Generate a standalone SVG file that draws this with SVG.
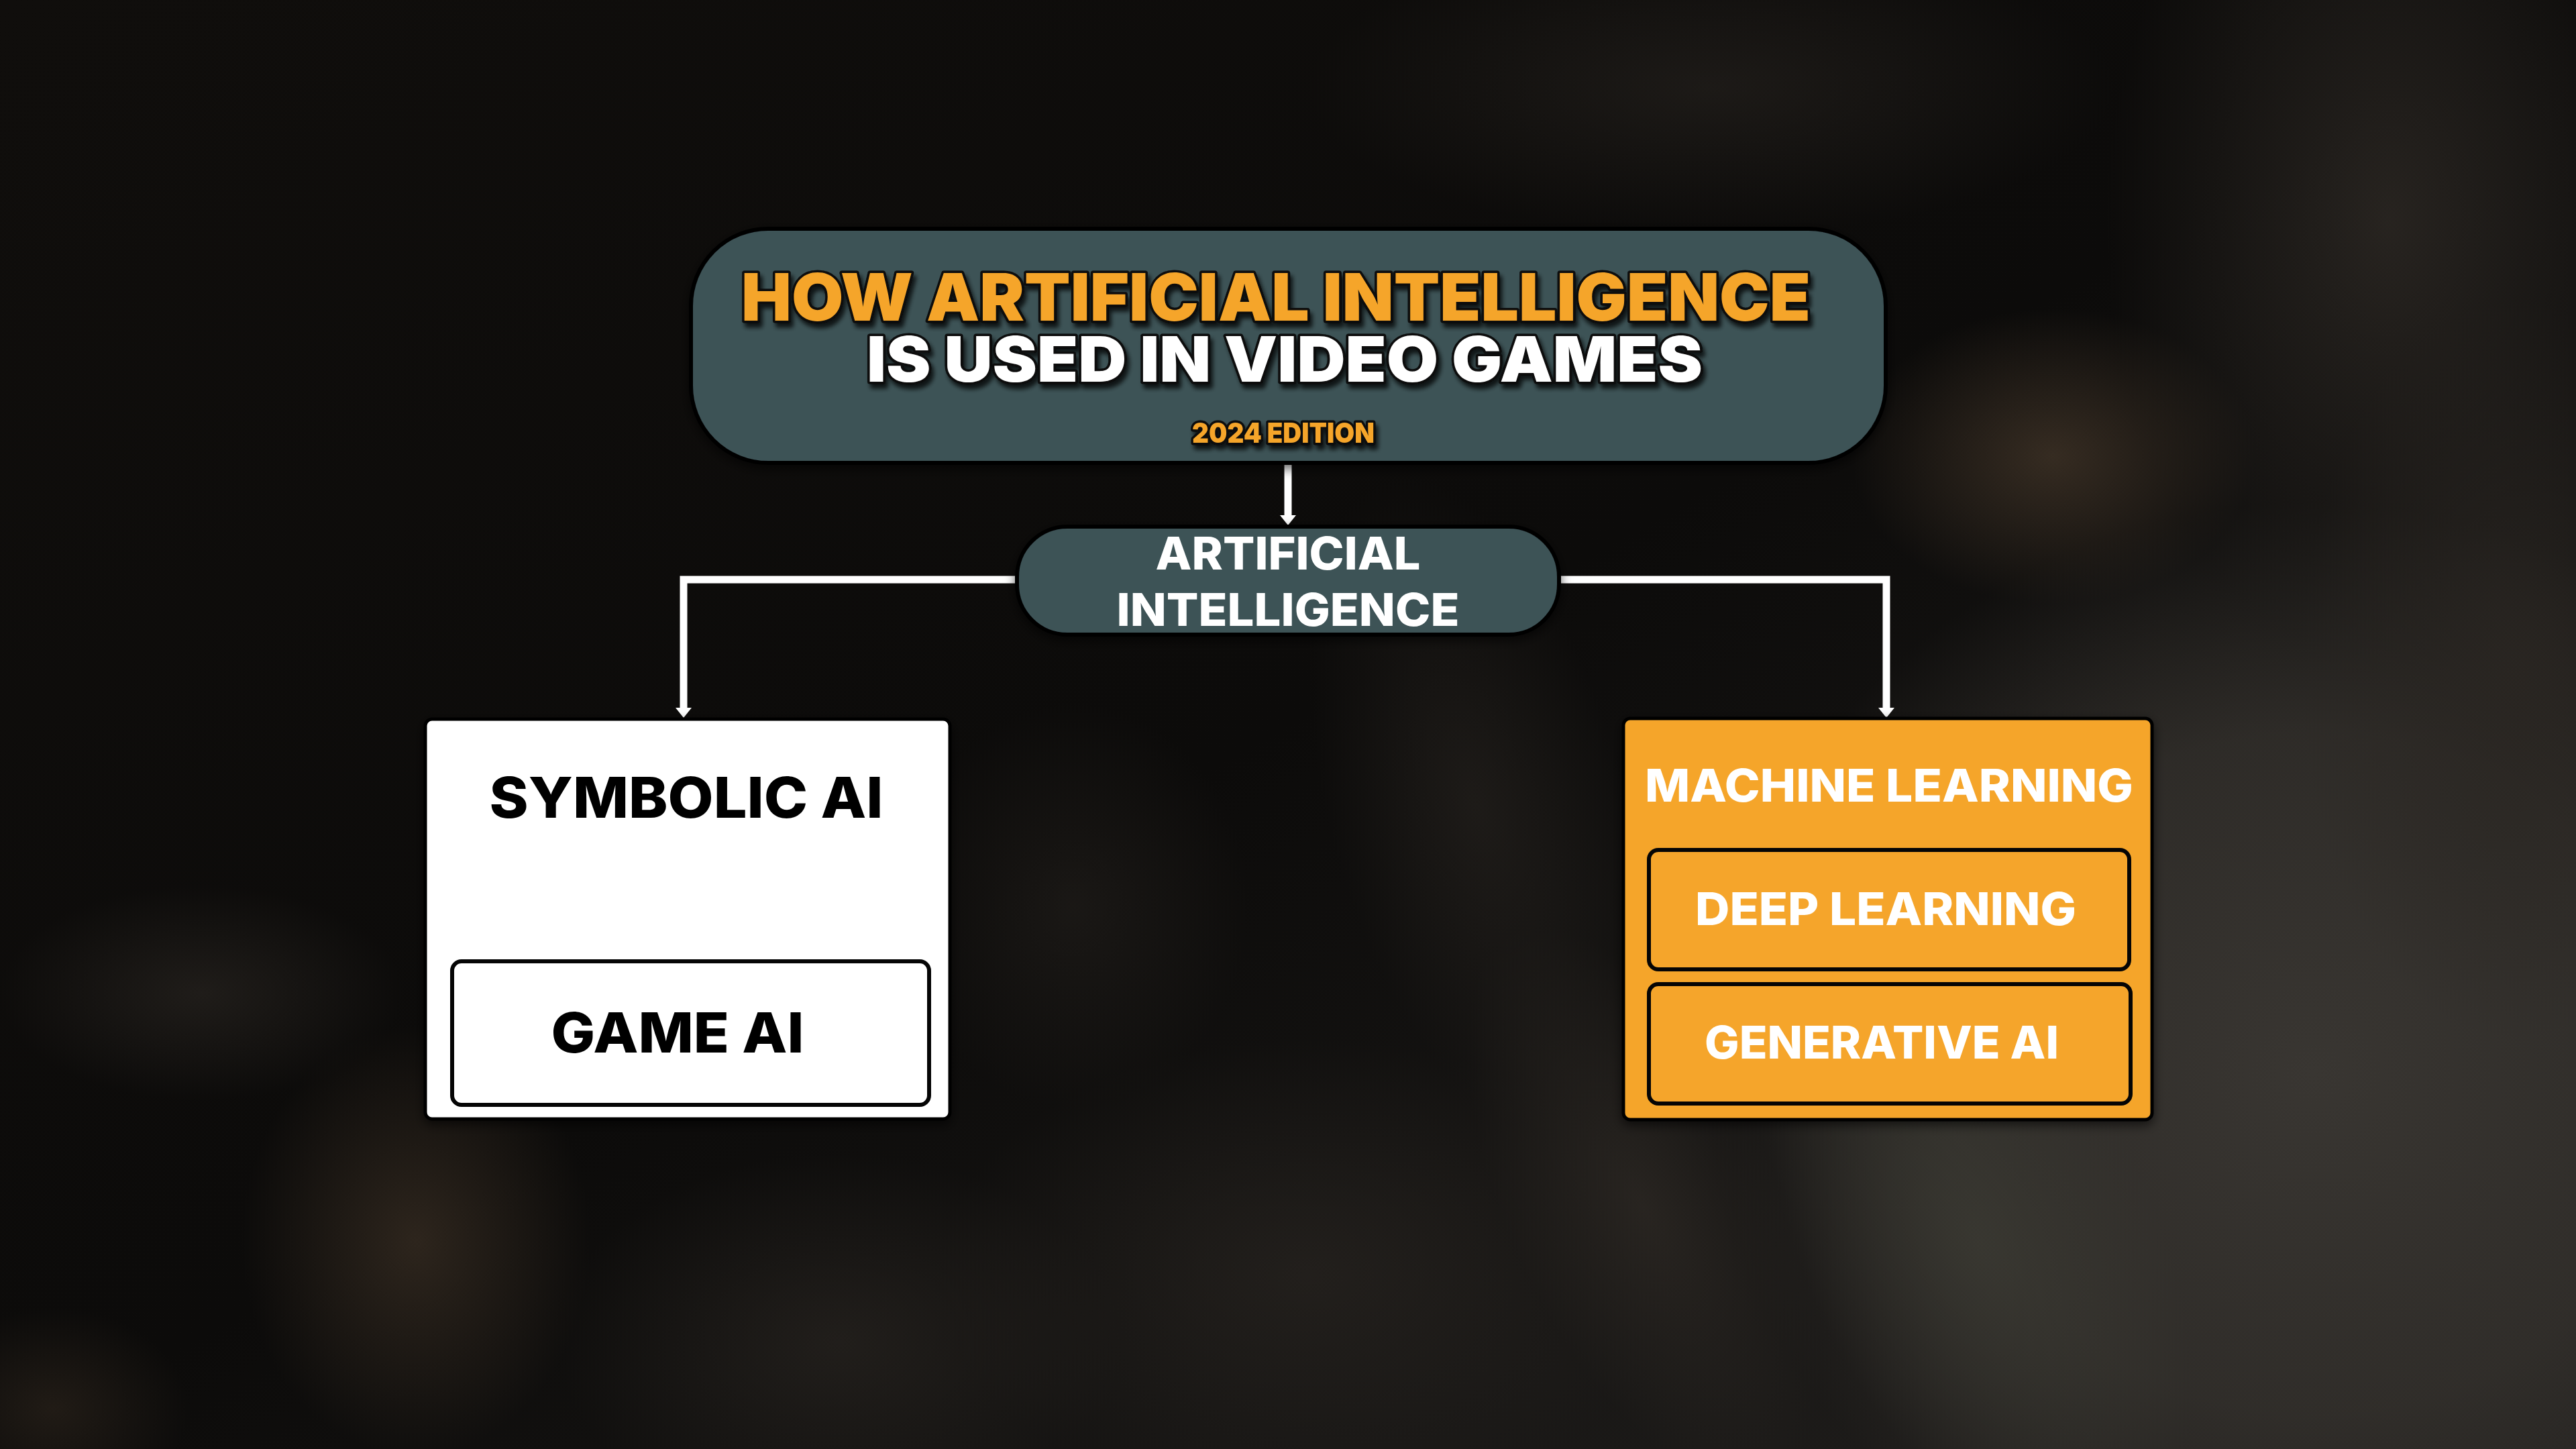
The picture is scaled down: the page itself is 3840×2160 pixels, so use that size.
<svg xmlns="http://www.w3.org/2000/svg" width="3840" height="2160" viewBox="0 0 3840 2160">
  <defs>
    <radialGradient id="gWarm"><stop offset="0" stop-color="#3a2f24" stop-opacity="0.9"/><stop offset="1" stop-color="#3a2f24" stop-opacity="0"/></radialGradient>
    <radialGradient id="gGrey"><stop offset="0" stop-color="#393632" stop-opacity="1"/><stop offset="0.6" stop-color="#34312d" stop-opacity="0.8"/><stop offset="1" stop-color="#34312d" stop-opacity="0"/></radialGradient>
    <radialGradient id="gDim"><stop offset="0" stop-color="#2a2622" stop-opacity="0.9"/><stop offset="1" stop-color="#2a2622" stop-opacity="0"/></radialGradient>
    <radialGradient id="gOlive"><stop offset="0" stop-color="#3b3a33" stop-opacity="0.8"/><stop offset="1" stop-color="#3b3a33" stop-opacity="0"/></radialGradient>
    <linearGradient id="gBase" x1="0" y1="0" x2="1" y2="1">
      <stop offset="0" stop-color="#100e0c"/>
      <stop offset="0.5" stop-color="#0c0b0a"/>
      <stop offset="1" stop-color="#23211f"/>
    </linearGradient>
    <filter id="txtshadow" x="-10%" y="-30%" width="120%" height="160%">
      <feDropShadow dx="4" dy="7" stdDeviation="3" flood-color="#000" flood-opacity="0.75"/>
    </filter>
    <filter id="boxshadow" x="-10%" y="-10%" width="120%" height="130%">
      <feDropShadow dx="0" dy="6" stdDeviation="8" flood-color="#000" flood-opacity="0.6"/>
    </filter>
    <marker id="arrow" viewBox="0 0 15 24" refX="0" refY="12" markerWidth="15" markerHeight="24" markerUnits="userSpaceOnUse" orient="auto">
      <polygon points="0,0 15,12 0,24" fill="#ffffff"/>
    </marker>
    <style>
      .lbl { font-family: Inter, "Noto Sans", "Liberation Sans", sans-serif; font-weight: 800; text-anchor: middle; }
      .title { font-family: Inter, "Noto Sans", "Liberation Sans", sans-serif; font-weight: 900; text-anchor: middle; paint-order: stroke; stroke: #0a0a0a; stroke-width: 7; stroke-linejoin: round; }
      .slate { fill: #3c5257; stroke: #050505; stroke-width: 6; }
      .conn { fill: none; stroke: #ffffff; stroke-width: 11; }
      .orange { fill: #f5a52b; }
    </style>
  </defs>

  <!-- blurred background -->
  <rect x="0" y="0" width="3840" height="2160" fill="url(#gBase)"/>
  <g id="background">
    <ellipse cx="3560" cy="330" rx="420" ry="650" fill="url(#gDim)"/>
    <ellipse cx="3060" cy="680" rx="300" ry="220" fill="url(#gWarm)"/>
    <ellipse cx="2550" cy="130" rx="600" ry="220" fill="url(#gDim)" opacity="0.6"/>
    <ellipse cx="3450" cy="1600" rx="900" ry="850" fill="url(#gGrey)"/>
    <ellipse cx="3750" cy="1000" rx="320" ry="550" fill="url(#gDim)"/>
    <ellipse cx="2950" cy="1850" rx="260" ry="500" fill="url(#gOlive)" transform="rotate(-25 2950 1850)"/>
    <ellipse cx="2450" cy="1800" rx="200" ry="450" fill="url(#gDim)" transform="rotate(-25 2450 1800)"/>
    <ellipse cx="1950" cy="1900" rx="550" ry="350" fill="url(#gDim)" opacity="0.7"/>
    <ellipse cx="620" cy="1850" rx="260" ry="320" fill="url(#gWarm)" opacity="0.8"/>
    <ellipse cx="300" cy="1480" rx="300" ry="160" fill="url(#gDim)" opacity="0.7"/>
    <ellipse cx="1250" cy="2000" rx="420" ry="280" fill="url(#gDim)" opacity="0.7"/>
    <ellipse cx="2200" cy="1200" rx="220" ry="500" fill="url(#gDim)" opacity="0.6" transform="rotate(-15 2200 1200)"/>
    <ellipse cx="1600" cy="1350" rx="260" ry="300" fill="url(#gDim)" opacity="0.5"/>
    <ellipse cx="80" cy="2100" rx="200" ry="150" fill="url(#gWarm)" opacity="0.5"/>
  </g>

  <!-- connectors -->
  <g id="connectors">
    <path class="conn" d="M1920,692 V768" marker-end="url(#arrow)"/>
    <path class="conn" d="M1517,864 H1019 V1055" marker-end="url(#arrow)"/>
    <path class="conn" d="M2323,864 H2812 V1055" marker-end="url(#arrow)"/>
  </g>

  <!-- title node -->
  <g id="title">
    <rect class="slate" x="1030" y="341" width="1781" height="349" rx="115" ry="115" filter="url(#boxshadow)"/>
    <g filter="url(#txtshadow)">
      <text class="title" x="1902" y="478" font-size="98" fill="#f5a52b" textLength="1594" lengthAdjust="spacingAndGlyphs">HOW ARTIFICIAL INTELLIGENCE</text>
      <text class="title" x="1915" y="569" font-size="94" fill="#ffffff" textLength="1246" lengthAdjust="spacingAndGlyphs">IS USED IN VIDEO GAMES</text>
      <text class="title" x="1913" y="660" font-size="41" fill="#f5a52b" stroke-width="6" textLength="272" lengthAdjust="spacingAndGlyphs">2024 EDITION</text>
    </g>
  </g>

  <!-- artificial intelligence node -->
  <g id="ai">
    <rect class="slate" x="1516" y="785" width="808" height="161" rx="75" ry="75" filter="url(#boxshadow)"/>
    <text class="lbl" x="1920" y="849" font-size="67" fill="#ffffff" textLength="395" lengthAdjust="spacingAndGlyphs">ARTIFICIAL</text>
    <text class="lbl" x="1920" y="933" font-size="67" fill="#ffffff" textLength="511" lengthAdjust="spacingAndGlyphs">INTELLIGENCE</text>
  </g>

  <!-- symbolic AI node -->
  <g id="symbolic">
    <rect x="634" y="1072" width="782" height="596" rx="10" ry="10" fill="#ffffff" stroke="#050505" stroke-width="5" filter="url(#boxshadow)"/>
    <text class="lbl" x="1023" y="1219" font-size="84" fill="#000000" textLength="587" lengthAdjust="spacingAndGlyphs">SYMBOLIC AI</text>
  </g>
  <g id="gameai">
    <rect x="674" y="1433" width="711" height="214" rx="14" ry="14" fill="#ffffff" stroke="#050505" stroke-width="6"/>
    <text class="lbl" x="1010" y="1569" font-size="83" fill="#000000" textLength="377" lengthAdjust="spacingAndGlyphs">GAME AI</text>
  </g>

  <!-- machine learning node -->
  <g id="ml">
    <rect class="orange" x="2420" y="1071" width="788" height="598" rx="10" ry="10" stroke="#050505" stroke-width="5" filter="url(#boxshadow)"/>
    <text class="lbl" x="2816" y="1195" font-size="67" fill="#ffffff" textLength="728" lengthAdjust="spacingAndGlyphs">MACHINE LEARNING</text>
  </g>
  <g id="deeplearning">
    <rect class="orange" x="2458" y="1267" width="716" height="178" rx="14" ry="14" stroke="#050505" stroke-width="6"/>
    <text class="lbl" x="2811" y="1379" font-size="67" fill="#ffffff" textLength="568" lengthAdjust="spacingAndGlyphs">DEEP LEARNING</text>
  </g>
  <g id="generativeai">
    <rect class="orange" x="2458" y="1467" width="718" height="178" rx="14" ry="14" stroke="#050505" stroke-width="6"/>
    <text class="lbl" x="2805" y="1578" font-size="67" fill="#ffffff" textLength="528" lengthAdjust="spacingAndGlyphs">GENERATIVE AI</text>
  </g>
</svg>
